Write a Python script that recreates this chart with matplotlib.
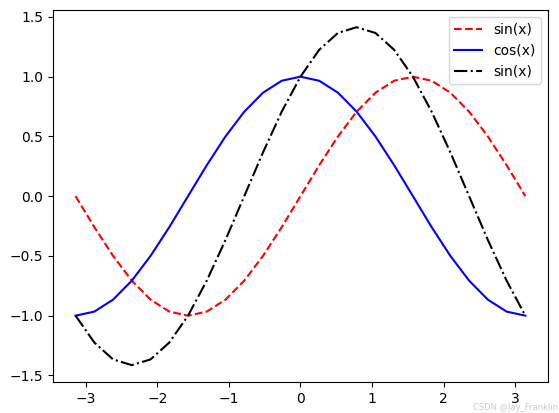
import numpy as np
import matplotlib
matplotlib.use("Agg")
import matplotlib.pyplot as plt

deg = [-180,-165,-150,-135,-120,-105,-90,-75,-60,-45,-30,-15,0,15,30,45,60,75,90,105,120,135,150,165,180]
sin_vals = [0,-0.259,-0.5,-0.707,-0.866,-0.966,-1,-0.966,-0.866,-0.707,-0.5,-0.259,0,0.259,0.5,0.707,0.866,0.966,1,0.966,0.866,0.707,0.5,0.259,0]
cos_vals = [-1,-0.966,-0.866,-0.707,-0.5,-0.259,0,0.259,0.5,0.707,0.866,0.966,1,0.966,0.866,0.707,0.5,0.259,0,-0.259,-0.5,-0.707,-0.866,-0.966,-1]
sum_vals = [-1,-1.225,-1.366,-1.414,-1.366,-1.225,-1,-0.707,-0.366,0,0.366,0.707,1,1.225,1.366,1.414,1.366,1.225,1,0.707,0.366,0,-0.366,-0.707,-1]
labels = ["sin(x)", "cos(x)", "sin(x)"]

x = np.radians(deg)
fig = plt.figure(figsize=(5.59, 4.13), dpi=100)
ax = fig.add_axes([0.095, 0.075, 0.885, 0.9])
ax.plot(x, sin_vals, "r--", label=labels[0])
ax.plot(x, cos_vals, "b-", label=labels[1])
ax.plot(x, sum_vals, "k-.", label=labels[2])
ax.legend(loc="upper right")
fig.text(0.998, 0.003, "CSDN @Jay_Franklin", ha="right", va="bottom", fontsize=6, color="#cccccc")
fig.savefig("out.png")
